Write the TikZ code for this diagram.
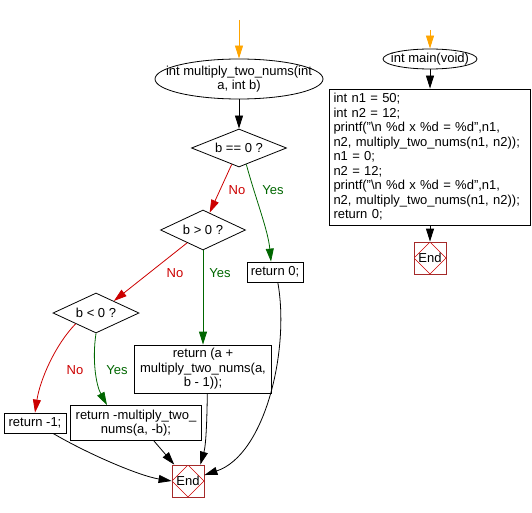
\documentclass[tikz,border=0pt]{standalone}
\usepackage{fontspec}
\setmainfont{Liberation Sans}
\usetikzlibrary{
    shapes.geometric,
    arrows.meta,
    calc,
}

\definecolor{flowred}{HTML}{CC0000}
\definecolor{flowgreen}{HTML}{006600}
\definecolor{flowamber}{HTML}{FFA500}
\definecolor{endbrown}{HTML}{A52A2A}

\tikzset{
  flowline/.style={draw, line width=0.8pt, -{Triangle[length=13pt,width=8pt]}},
  startline/.style={flowline, draw=flowamber},
  noline/.style={flowline, draw=flowred},
  yesline/.style={flowline, draw=flowgreen},
  terminal/.style={draw, ellipse, line width=0.8pt, inner sep=0pt},
  decision/.style={draw, diamond, line width=0.8pt, inner sep=0pt},
  process/.style={draw, rectangle, line width=0.8pt, inner sep=3pt, align=center},
  endbox/.style={draw=endbrown, line width=0.8pt, minimum size=32pt, inner sep=0pt,
    path picture={\draw[flowred, line width=0.6pt]
      (path picture bounding box.north) -- (path picture bounding box.east)
      -- (path picture bounding box.south) -- (path picture bounding box.west) -- cycle;}},
  nolabel/.style={text=flowred},
  yeslabel/.style={text=flowgreen},
}

\begin{document}
\begin{tikzpicture}[x=1pt, y=-1pt, font=\fontsize{13}{14.5}\selectfont]
  \useasboundingbox (0,0) rectangle (532,513);

  % multiply_two_nums
  \coordinate (in1) at (239,20);
  \node[terminal, minimum width=168pt, minimum height=40pt] (func) at (239,79) {};
  \node[align=center] (functext) at (func) {int multiply\_two\_nums(int\\a, int b)};
  \node[decision, shape aspect=2.5, minimum width=95pt, minimum height=38pt] (iszero) at (239,148) {b == 0 ?};
  \node[process, minimum width=56pt, minimum height=20pt] (ret0) at (275,272) {return 0;};
  \node[decision, shape aspect=2.1, minimum width=85pt, minimum height=40pt] (ispos) at (203,230) {b > 0 ?};
  \node[decision, shape aspect=2.1, minimum width=86pt, minimum height=40pt] (isneg) at (96,313) {b < 0 ?};
  \node[process, minimum width=137pt, minimum height=48pt] (retrec) at (203,369) {return (a +\\multiply\_two\_nums(a,\\b - 1));};
  \node[process, minimum width=62pt, minimum height=20pt] (retm1) at (35,423) {return -1;};
  \node[process, minimum width=131pt, minimum height=35pt] (retneg) at (136,423) {return -multiply\_two\_\\nums(a, -b);};
  \node[endbox] (end1) at (188,481) {End};

  \draw[startline] (in1) -- (func);
  \draw[flowline] (func) -- (iszero);
  \draw[noline] (iszero.246) -- (ispos.69);
  \node[nolabel] (no1) at (237,190) {No};
  \draw[yesline] (iszero.294) .. controls (256,200) and (268,230) .. ($(ret0.north)+(-4,0)$);
  \node[yeslabel] (yes1) at (273,190) {Yes};
  \draw[noline] (ispos.219) -- (isneg.34);
  \node[nolabel] (no2) at (175,273) {No};
  \draw[yesline] (ispos) -- (retrec);
  \node[yeslabel] (yes2) at (220,273) {Yes};
  \draw[noline] (isneg.208) .. controls (55,345) and (40,380) .. (retm1.north);
  \node[nolabel] (no3) at (75,370) {No};
  \draw[yesline] (isneg.south) .. controls (92,360) and (96,385) .. ($(retneg.north)+(-29,0)$);
  \node[yeslabel] (yes3) at (117,370) {Yes};
  \draw[flowline] ($(retm1.south)+(18,0)$) .. controls (90,455) and (140,476) .. (end1.west);
  \draw[flowline] (retneg.-45) -- (end1.130);
  \draw[flowline] (retrec.-80) .. controls (207,420) and (206,445) .. (end1.53);
  \draw[flowline] (ret0.-75) .. controls (290,350) and (265,455) .. (end1.20);

  % main
  \coordinate (in2) at (430,30);
  \node[terminal, minimum width=94pt, minimum height=20pt] (main) at (430,59) {};
  \node (maintext) at (main) {int main(void)};
  \node[process, align=left, text width=193pt, minimum height=136pt, inner sep=4pt] (body) at (430,157)
    {int n1 = 50;\\
     int n2 = 12;\\
     printf("\textbackslash n \%d x \%d = \%d",n1,\\
     n2, multiply\_two\_nums(n1, n2));\\
     n1 = 0;\\
     n2 = 12;\\
     printf("\textbackslash n \%d x \%d = \%d",n1,\\
     n2, multiply\_two\_nums(n1, n2));\\
     return 0;};
  \node[endbox] (end2) at (430,258) {End};

  \draw[startline] (in2) -- (main);
  \draw[flowline] (main) -- (body);
  \draw[flowline] (body) -- (end2);
\end{tikzpicture}
\end{document}
